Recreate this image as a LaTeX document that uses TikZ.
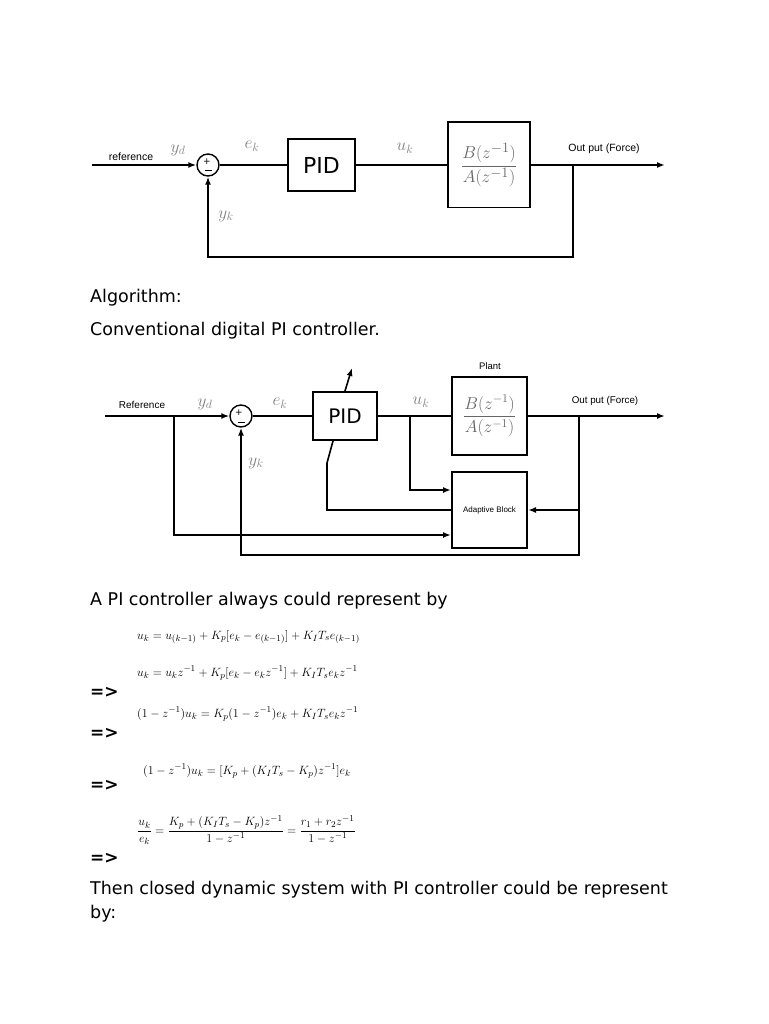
\documentclass[tikz,border=0pt]{standalone}
\usepackage{amsmath}
\usepackage{fontspec}
\setmainfont{DejaVu Sans}
\newfontfamily\labf{Liberation Sans}
\usetikzlibrary{arrows.meta,calc}
\begin{document}
\begin{tikzpicture}[x=1pt,y=-1pt,
  ln/.style={line width=1.6pt},
  arr/.style={ln,-{Latex[length=8pt,width=6pt]}},
  sumc/.style={circle,draw,line width=1.4pt,minimum size=22pt,inner sep=0pt},
  blk/.style={draw,line width=1.2pt,inner sep=0pt,fill=white},
  blkb/.style={draw,line width=2pt,inner sep=0pt,fill=white},
  lbl/.style={font=\labf\fontsize{10.5}{11}\selectfont,inner sep=0pt},
  mlbl/.style={text=black!50,inner sep=0pt,font=\fontsize{17}{18}\selectfont},
  txt/.style={anchor=west,inner sep=0pt,font=\fontsize{17.5}{20}\selectfont},
  eq/.style={anchor=west,inner sep=0pt,font=\fontsize{12.2}{14}\selectfont},
  imp/.style={anchor=west,inner sep=0pt,font=\bfseries\fontsize{17}{18}\selectfont},
  pm/.style={inner sep=0pt,font=\fontsize{9}{9}\selectfont}]
\useasboundingbox[fill=white] (0,0) rectangle (768,1024);

% ---------------- Diagram 1 ----------------
\coordinate (in1) at (92,165);
\node[sumc] (s1) at (208,165) {};
\node[pm] (p1) at (207,162) {+};
\draw[line width=1pt] (205,171) -- (212,171);
\node[blk,minimum width=67pt,minimum height=52pt,font=\fontsize{22}{24}\selectfont] (pid1) at (321.5,165) {PID};
\node[blk,minimum width=82pt,minimum height=85pt,text=black!60,font=\fontsize{19}{20}\selectfont] (pl1) at (489,165)
  {$\displaystyle\frac{B(z^{-1})}{A(z^{-1})}$};
\draw[line width=2pt] (pl1.north west) -- (pl1.north east);
\coordinate (out1) at (665,165);
\coordinate (t1) at (573,165);
\coordinate (f1) at (573,257);
\draw[arr] (in1) -- (s1.west);
\draw[ln] (s1.east) -- (pid1.west);
\draw[ln] (pid1.east) -- (pl1.west);
\draw[arr] (pl1.east) -- (out1);
\draw[arr] (t1) -- (f1) -| (s1.south);
\node[lbl] (ref1) at (131,157) {reference};
\node[mlbl] (yd1) at (178,150) {$y_d$};
\node[mlbl] (ek1) at (252,146) {$e_k$};
\node[mlbl] (uk1) at (405,148) {$u_k$};
\node[mlbl] (yk1) at (226,216) {$y_k$};
\node[lbl] (o1) at (604,149) {Out put (Force)};

% ---------------- Text ----------------
\node[txt] (t_alg) at (90,298) {Algorithm:};
\node[txt] (t_conv) at (90,331) {Conventional digital PI controller.};

% ---------------- Diagram 2 ----------------
\coordinate (in2) at (105,416);
\node[sumc] (s2) at (241,416) {};
\node[pm] (p2) at (239,413) {+};
\draw[line width=1pt] (238,422) -- (245,422);
\node[blkb,minimum width=64pt,minimum height=48pt,font=\fontsize{20}{22}\selectfont] (pid2) at (345,416) {PID};
\node[blkb,minimum width=75pt,minimum height=78pt,text=black!60,font=\fontsize{17.5}{19}\selectfont] (pl2) at (489.5,416)
  {$\displaystyle\frac{B(z^{-1})}{A(z^{-1})}$};
\node[blkb,minimum width=75pt,minimum height=76pt,font=\labf\fontsize{8}{9}\selectfont] (ad) at (489.5,510) {Adaptive Block};
\coordinate (out2) at (665,416);
\coordinate (r2) at (174,416);
\coordinate (u2) at (410,416);
\coordinate (o2) at (579,416);
\coordinate (f2) at (579,555);
\coordinate (pb) at (327,463);
\coordinate (pc) at (327,510);
\coordinate (pt) at (352,368);
\draw[arr] (in2) -- (s2.west);
\draw[ln] (s2.east) -- (pid2.west);
\draw[ln] (pid2.east) -- (pl2.west);
\draw[arr] (pl2.east) -- (out2);
\draw[arr] (u2) |- ([yshift=20pt]ad.west);
\draw[arr] (r2) |- ([yshift=-25pt]ad.west);
\draw[ln] ([xshift=-12pt]pid2.south) -- (pb) -- (pc) -- (ad.west);
\draw[arr] (o2) |- (ad.east);
\draw[arr] (o2) -- (f2) -| (s2.south);
\draw[arr] (pid2.north) -- (pt);
\fill (241,535) circle (1.6pt);
\node[lbl,font=\labf\fontsize{10}{11}\selectfont] (ref2) at (142,405) {Reference};
\node[mlbl] (yd2) at (205,404) {$y_d$};
\node[mlbl] (ek2) at (280,403) {$e_k$};
\node[mlbl] (uk2) at (421,402) {$u_k$};
\node[mlbl] (yk2) at (256,463) {$y_k$};
\node[lbl,font=\labf\fontsize{9.5}{10}\selectfont] (plant) at (490,366) {Plant};
\node[lbl,font=\labf\fontsize{9.8}{10}\selectfont] (o2l) at (605,401) {Out put (Force)};

% ---------------- Equations ----------------
\node[txt] (t_a) at (90,601) {A PI controller always could represent by};
\node[eq] (e1) at (137,637) {$u_k = u_{(k-1)} + K_p[e_k - e_{(k-1)}] + K_I T_s e_{(k-1)}$};
\node[eq] (e2) at (137,673) {$u_k = u_k z^{-1} + K_p[e_k - e_k z^{-1}] + K_I T_s e_k z^{-1}$};
\node[imp] (i1) at (90,692) {=>};
\node[eq] (e3) at (137,714) {$(1-z^{-1})u_k = K_p(1-z^{-1})e_k + K_I T_s e_k z^{-1}$};
\node[imp] (i2) at (90,733) {=>};
\node[eq] (e4) at (143,771) {$(1-z^{-1})u_k = [K_p + (K_I T_s - K_p)z^{-1}]e_k$};
\node[imp] (i3) at (90,785) {=>};
\node[eq] (e5) at (137,830) {$\dfrac{u_k}{e_k} = \dfrac{K_p + (K_I T_s - K_p)z^{-1}}{1-z^{-1}} = \dfrac{r_1 + r_2 z^{-1}}{1-z^{-1}}$};
\node[imp] (i4) at (90,858) {=>};
\node[txt] (t_then) at (90,890) {Then closed dynamic system with PI controller could be represent};
\node[txt] (t_by) at (90,914) {by:};
\end{tikzpicture}
\end{document}
